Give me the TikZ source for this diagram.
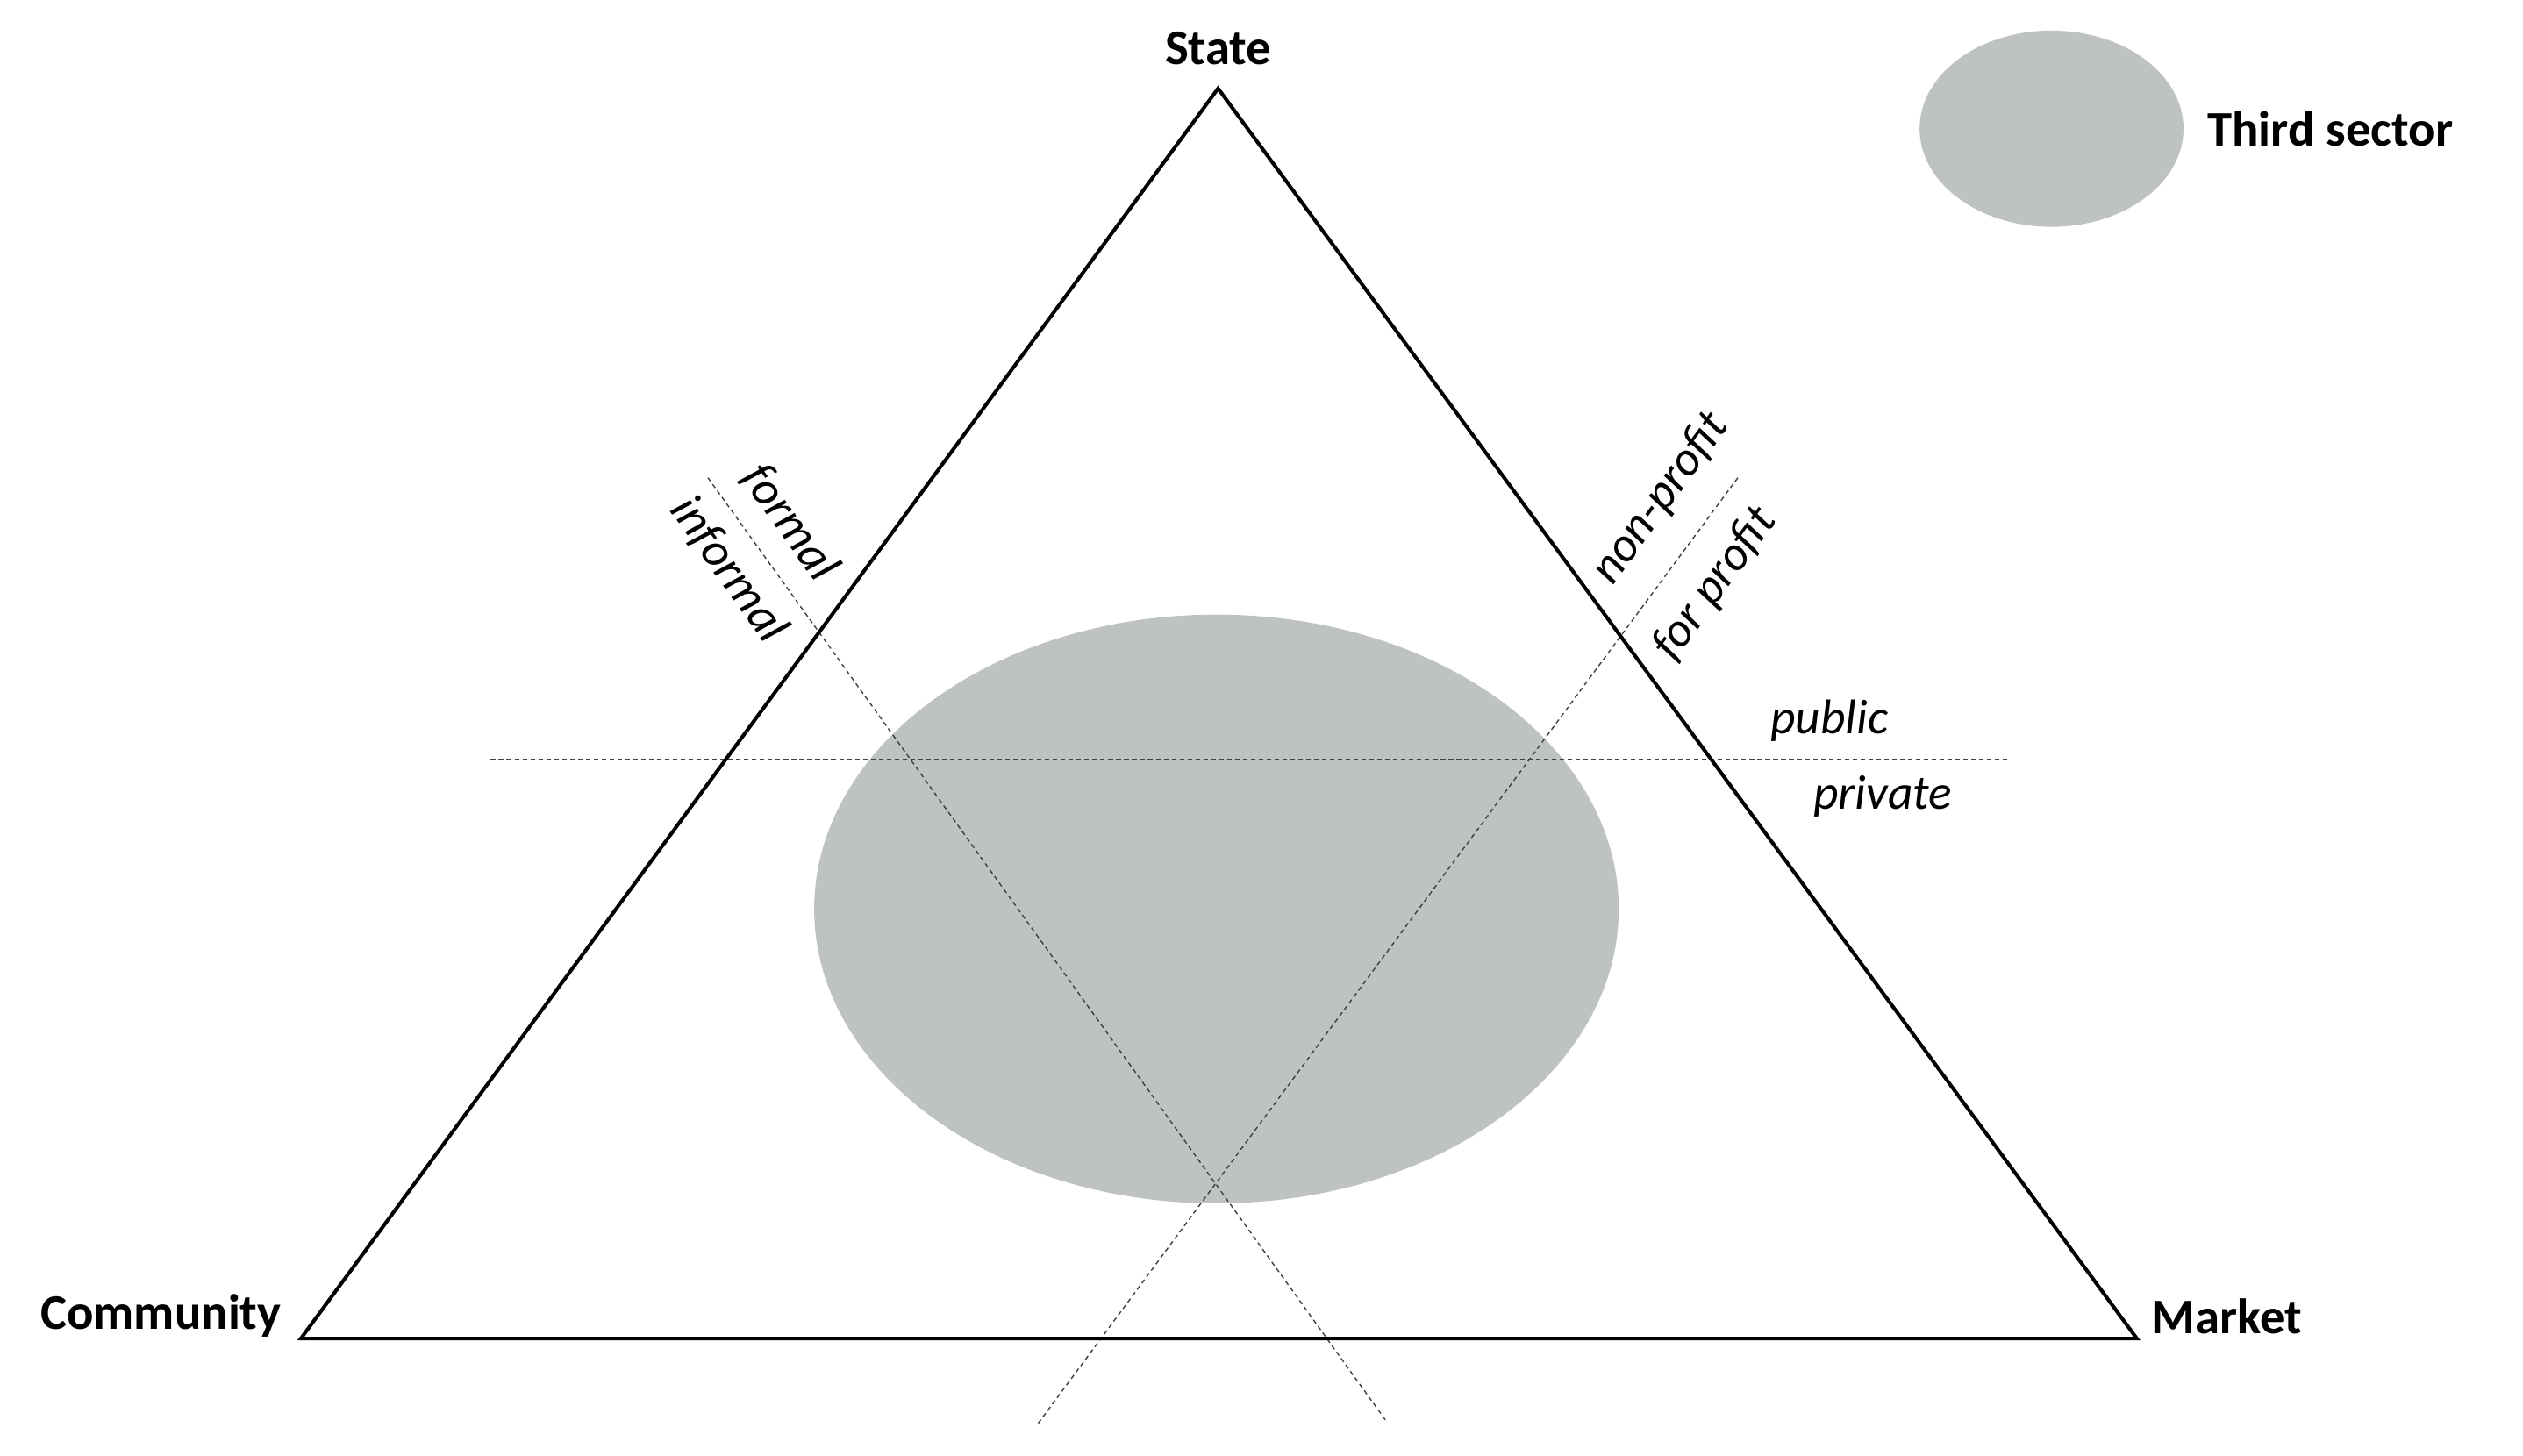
\documentclass[tikz,border=0pt]{standalone}
\usepackage{fontspec}
\setmainfont{Carlito}
\begin{document}
\begin{tikzpicture}[x=0.05cm,y=-0.05cm,
  lbl/.style={font=\fontsize{44}{50}\selectfont\bfseries,inner sep=1pt},
  itl/.style={font=\fontsize{43}{50}\selectfont\itshape,inner sep=1pt},
  div/.style={line width=1.1pt,dash pattern=on 4pt off 3pt,black!75}]
\useasboundingbox (0,0) rectangle (1568,904.5);
\definecolor{ts}{RGB}{190,194,195}
\fill[ts] (756,565) ellipse (250 and 183);
\fill[ts] (1275,80) ellipse (82 and 61);
\coordinate (S) at (757,55);
\coordinate (C) at (187,832);
\coordinate (M) at (1328,832);
\coordinate (h1) at (305,472); \coordinate (h2) at (1248,472);
\coordinate (a1) at (440,297); \coordinate (a2) at (862,884);
\coordinate (b1) at (1080,297); \coordinate (b2) at (645,885);
\draw[div] (h1) -- (h2);
\draw[div] (a1) -- (a2);
\draw[div] (b1) -- (b2);
\draw[line width=3.2pt,line join=miter] (S) -- (M) -- (C) -- cycle;
\node[lbl] (st) at (757,30) {State};
\node[lbl] (co) at (100,818) {Community};
\node[lbl] (ma) at (1384,818) {Market};
\node[lbl,anchor=west] (ts) at (1371,80) {Third sector};
\node[itl,rotate=-54.5] (fo) at (491,325) {formal};
\node[itl,rotate=-54.5] (inf) at (453,354) {informal};
\node[itl,rotate=54] (np) at (1032,310) {non-profit};
\node[itl,rotate=54] (fp) at (1066,363) {for profit};
\node[itl] (pu) at (1137,448) {public};
\node[itl] (pr) at (1170,495) {private};
\end{tikzpicture}
\end{document}
